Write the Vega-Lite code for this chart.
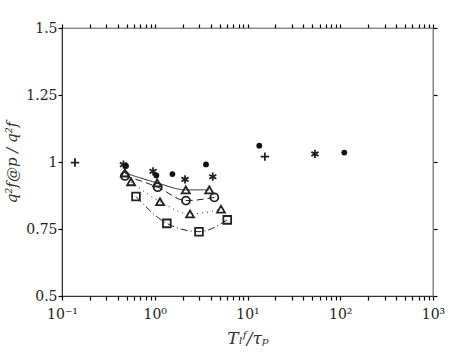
{
  "$schema": "https://vega.github.io/schema/vega-lite/v6.json",
  "width": 371,
  "height": 268,
  "autosize": {"type": "none"},
  "padding": {"left": 62, "top": 28, "right": 41, "bottom": 59},
  "background": "white",
  "config": {
    "view": {"stroke": "#333", "strokeWidth": 1.2},
    "axis": {"labelFont": "DejaVu Serif", "labelFontSize": 14, "labelColor": "#222", "titleFont": "DejaVu Serif", "titleColor": "#333", "titleFontWeight": "normal"}
  },
  "data": {
    "values": [
      {"s": "cross", "x": 0.138, "y": 0.998},
      {"s": "cross", "x": 15.4, "y": 1.02},
      {"s": "star", "x": 0.46, "y": 0.99},
      {"s": "star", "x": 0.96, "y": 0.965},
      {"s": "star", "x": 2.12, "y": 0.935},
      {"s": "star", "x": 4.22, "y": 0.945},
      {"s": "star", "x": 53.4, "y": 1.03},
      {"s": "dot", "x": 0.49, "y": 0.985},
      {"s": "dot", "x": 1.04, "y": 0.95},
      {"s": "dot", "x": 1.55, "y": 0.955},
      {"s": "dot", "x": 3.57, "y": 0.991},
      {"s": "dot", "x": 13.4, "y": 1.061},
      {"s": "dot", "x": 110.6, "y": 1.035},
      {"s": "solid", "x": 0.477, "y": 0.959},
      {"s": "solid", "x": 1.06, "y": 0.922},
      {"s": "solid", "x": 2.16, "y": 0.896},
      {"s": "solid", "x": 3.87, "y": 0.896},
      {"s": "dashed", "x": 0.477, "y": 0.948},
      {"s": "dashed", "x": 1.077, "y": 0.906},
      {"s": "dashed", "x": 2.17, "y": 0.856},
      {"s": "dashed", "x": 4.39, "y": 0.868},
      {"s": "dotted", "x": 0.555, "y": 0.926},
      {"s": "dotted", "x": 1.14, "y": 0.852},
      {"s": "dotted", "x": 2.4, "y": 0.806},
      {"s": "dotted", "x": 5.18, "y": 0.824},
      {"s": "dashdot", "x": 0.628, "y": 0.871},
      {"s": "dashdot", "x": 1.35, "y": 0.771},
      {"s": "dashdot", "x": 3.0, "y": 0.74},
      {"s": "dashdot", "x": 6.05, "y": 0.784}
    ]
  },
  "resolve": {"axis": {"x": "independent", "y": "independent"}},
  "layer": [
    {
      "transform": [{"filter": "indexof(['solid','dashed','dotted','dashdot'], datum.s) >= 0"}],
      "mark": {"type": "line", "color": "#222", "strokeWidth": 1, "interpolate": "monotone"},
      "encoding": {
        "x": {"field": "x", "type": "quantitative", "scale": {"type": "log", "domain": [0.1, 1000], "nice": false},
          "axis": {"orient": "bottom", "grid": false, "ticks": true, "domain": true, "domainColor": "#333",
            "labelExpr": "abs(log(datum.value)/LN10 - round(log(datum.value)/LN10)) > 0.001 ? '' : round(log(datum.value)/LN10) == -1 ? '10⁻¹' : round(log(datum.value)/LN10) == 0 ? '10⁰' : round(log(datum.value)/LN10) == 1 ? '10¹' : round(log(datum.value)/LN10) == 2 ? '10²' : '10³'",
            "tickSize": 4, "tickColor": "black", "tickWidth": 1.2, "labelPadding": 7, "labelFlush": false, "labelOverlap": false,
            "title": "Tₗᶠ/τₚ", "titleFontSize": 17, "titleFontStyle": "italic", "titlePadding": 9}},
        "y": {"field": "y", "type": "quantitative", "scale": {"domain": [0.5, 1.5], "nice": false, "zero": false},
          "axis": {"orient": "left", "grid": false, "ticks": true, "domain": true, "domainColor": "#333", "values": [0.5, 0.75, 1, 1.25, 1.5], "format": ".2~f", "tickSize": 4, "tickColor": "black", "tickWidth": 1.2, "labelPadding": 1,
            "title": "q²f@p / q²f", "titleFontSize": 15, "titleFontStyle": "italic", "titlePadding": 6}},
        "strokeDash": {"field": "s", "type": "nominal", "legend": null,
          "scale": {"domain": ["solid", "dashed", "dotted", "dashdot"], "range": [[1, 0], [7, 4], [1, 4], [7, 3, 1, 3]]}}
      }
    },
    {
      "transform": [{"filter": "datum.s != 'dot'"}],
      "mark": {"type": "point", "filled": false, "color": "#222", "strokeWidth": 1, "opacity": 1},
      "encoding": {
        "x": {"field": "x", "type": "quantitative", "scale": {"type": "log", "domain": [0.1, 1000], "nice": false},
          "axis": {"orient": "top", "grid": false, "ticks": true, "labels": false, "tickSize": 4, "tickColor": "black", "tickWidth": 1.2, "title": null}},
        "y": {"field": "y", "type": "quantitative", "scale": {"domain": [0.5, 1.5], "nice": false, "zero": false},
          "axis": {"orient": "right", "grid": false, "ticks": true, "values": [0.5, 0.75, 1, 1.25, 1.5], "labels": false, "tickSize": 4, "tickColor": "black", "tickWidth": 1.2, "title": null}},
        "shape": {"field": "s", "type": "nominal", "legend": null,
          "scale": {"domain": ["cross", "star", "solid", "dashed", "dotted", "dashdot"],
            "range": ["M-1,0L1,0M0,-1L0,1", "M0,-1L0,1M-0.87,-0.5L0.87,0.5M-0.87,0.5L0.87,-0.5", "triangle-up", "circle", "triangle-up", "square"]}},
        "size": {"field": "s", "type": "nominal", "legend": null,
          "scale": {"domain": ["cross", "star", "solid", "dashed", "dotted", "dashdot"], "range": [70, 60, 30, 50, 55, 50]}},
        "strokeWidth": {"field": "s", "type": "nominal", "legend": null,
          "scale": {"domain": ["cross", "star", "solid", "dashed", "dotted", "dashdot"], "range": [1.8, 1.8, 1, 1, 1, 1]}}
      }
    },
    {
      "transform": [{"filter": "datum.s == 'dot'"}],
      "mark": {"type": "circle", "color": "#111", "opacity": 1, "size": 34},
      "encoding": {
        "x": {"field": "x", "type": "quantitative", "scale": {"type": "log", "domain": [0.1, 1000], "nice": false}, "axis": null},
        "y": {"field": "y", "type": "quantitative", "scale": {"domain": [0.5, 1.5], "nice": false, "zero": false}, "axis": null}
      }
    }
  ]
}
